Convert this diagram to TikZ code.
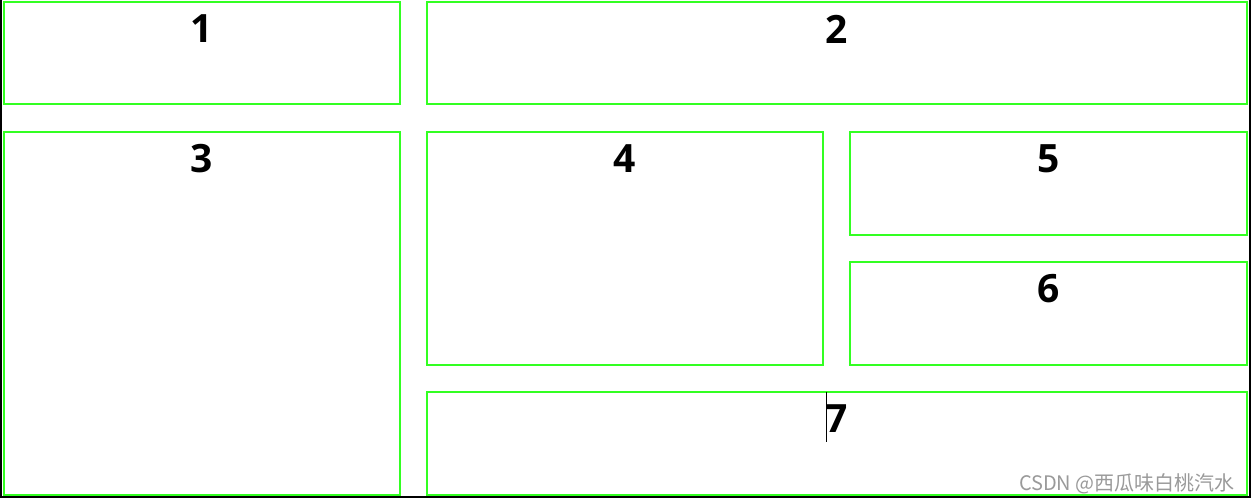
\documentclass[tikz,border=0pt]{standalone}
\usepackage{fontspec}
\setsansfont{Open Sans}
\newfontfamily\cjkfont{Noto Sans CJK SC}
\usetikzlibrary{positioning}
\definecolor{BoxGreen}{HTML}{33FF22}
\definecolor{MarkGray}{HTML}{9A9A9A}

\begin{document}
\begin{tikzpicture}[x=1pt, y=-1pt,
			node distance=27pt,
			box/.style={rectangle, draw=BoxGreen, line width=2pt, outer sep=0pt, inner sep=0pt},
			half/.style={box, minimum width=396pt, minimum height=102pt},
			wide/.style={box, minimum width=820pt, minimum height=102pt},
			num/.style={font=\sffamily\bfseries\fontsize{39}{39}\selectfont, anchor=center, yshift=-27pt}
			]
			\useasboundingbox[fill=white] (0,0) rectangle (1251,502);
			% Frame of the screenshot
			\draw[black, line width=2pt] (1,0) -- (1,497) -- (1249.5,497) -- (1249.5,0);
			
			% Nodes
			\node (b1) [half, anchor=north west, label={[num]north:1}] at (4,2) {};
			\node (b2) [wide, right=of b1, label={[num]north:2}] {};
			\node (b3) [half, minimum height=363pt, below=28pt of b1, label={[num]north:3}] {};
			\node (b4) [half, minimum height=233pt, right=of b3.north east, anchor=north west, label={[num]north:4}] {};
			\node (b5) [half, minimum width=397pt, minimum height=103pt, right=of b4.north east, anchor=north west, label={[num]north:5}] {};
			\node (b6) [half, minimum width=397pt, minimum height=103pt, below=of b5, label={[num]north:6}] {};
			\node (b7) [wide, minimum height=103pt, below=of b4.south west, anchor=north west, label={[num]north:7}] {};
			
			% Text cursor and watermark
			\draw[black, line width=1pt] ([xshift=-11pt]b7.north) -- ++(0,50);
			\node (mark) [anchor=east, text=MarkGray, font=\cjkfont\fontsize{20}{20}\selectfont, inner sep=0pt] at ([xshift=-12pt, yshift=11pt]b7.south east) {CSDN @西瓜味白桃汽水};
			
		\end{tikzpicture}
\end{document}
